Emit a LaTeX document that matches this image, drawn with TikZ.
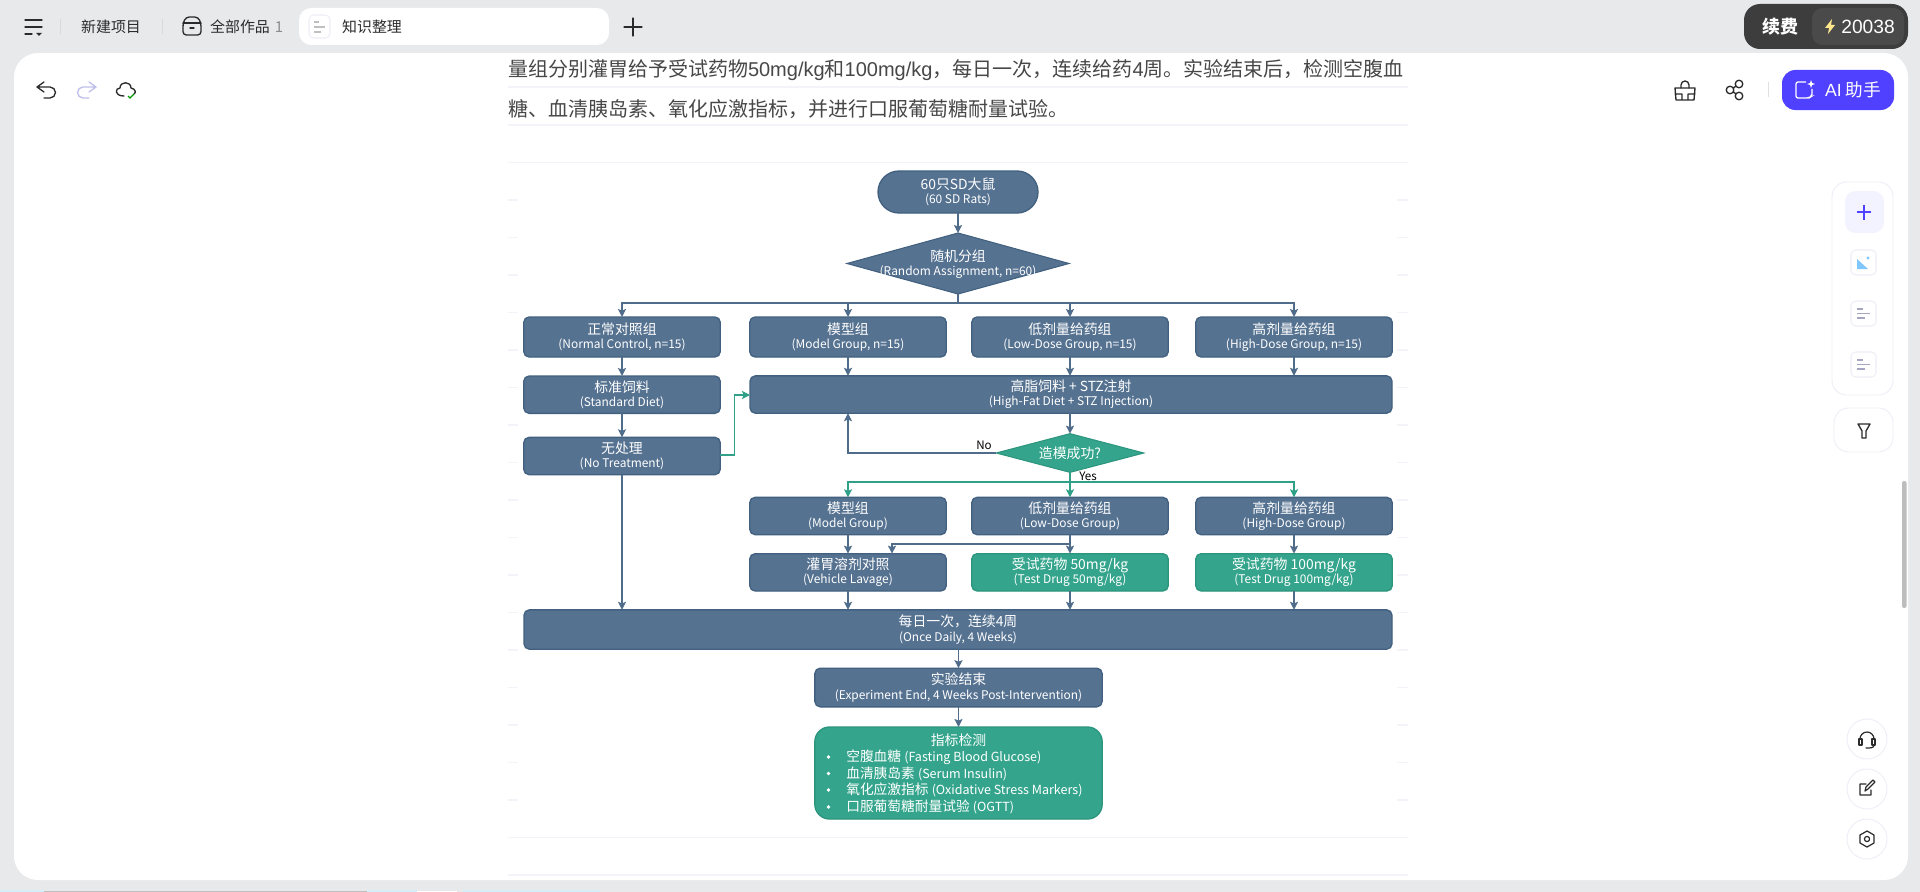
\documentclass[tikz,border=0pt]{standalone}
\usepackage{fontspec}
\setmainfont{Noto Sans CJK SC}
\newfontfamily\uifont{Liberation Sans}
\usetikzlibrary{positioning, shapes.geometric, arrows.meta, calc}

\definecolor{bluefill}{HTML}{567291}
\definecolor{blueedge}{HTML}{42607F}
\definecolor{blueline}{HTML}{4F6C8B}
\definecolor{greenfill}{HTML}{34A58C}
\definecolor{greenedge}{HTML}{2C957E}
\definecolor{greenline}{HTML}{30A088}
\definecolor{pagegrey}{HTML}{E8E9EB}
\definecolor{faintline}{HTML}{F3F3F9}
\definecolor{uipurple}{HTML}{5040FF}
\definecolor{uiedge}{HTML}{EEEEF7}
\definecolor{uiink}{HTML}{2B2B2B}

\newcommand{\twolines}[2]{{\fontsize{10.4pt}{12pt}\selectfont #1}\\[-1.4pt]{\fontsize{8.95pt}{10.5pt}\selectfont #2}}
\newcommand{\lat}[1]{{\uifont #1}}

\tikzset{
  flowbox/.style={draw=blueedge, fill=bluefill, line width=1pt, rounded corners=4pt, text=white,
    align=center, outer sep=0pt, inner sep=0pt, minimum height=#1},
  flowbox/.default=28pt,
  groupbox/.style={flowbox=30pt, minimum width=147.4pt},
  stepbox/.style={flowbox=28pt, minimum width=147.4pt},
  drugbox/.style={stepbox, draw=greenedge, fill=greenfill},
  decide/.style={diamond, aspect=3.7, draw=blueedge, fill=bluefill, line width=.8pt, outer sep=0pt, inner sep=0pt},
  decidetext/.style={text=white, align=center, inner sep=0pt},
  flow/.style={draw=blueline, line width=1.2pt, -{Stealth[length=6pt,width=6pt,inset=1.2pt]}},
  yesflow/.style={draw=greenline, line width=1.2pt, -{Stealth[length=6pt,width=6pt,inset=1.2pt]}},
  tinylabel/.style={font=\fontsize{8.7pt}{10pt}\selectfont, inner sep=0pt, outer sep=0pt},
  uitext/.style={font=\fontsize{11.2pt}{14pt}\selectfont, text=uiink, inner sep=0pt, outer sep=0pt},
  bodytext/.style={font=\fontsize{15pt}{18pt}\selectfont, text=black!72, inner sep=0pt, outer sep=0pt, anchor=west},
  uiicon/.style={draw=uiink, line width=1pt, line cap=round, line join=round},
  sidecard/.style={draw=uiedge, fill=white, line width=.7pt},
  docbadge/.style={draw=uiedge, fill=white, line width=.8pt, rounded corners=3.5pt},
}

\begin{document}
\begin{tikzpicture}[x=.75pt, y=-.75pt, node distance=14.25pt]
  \useasboundingbox (0,0) rectangle (1920,892);
  % window
  \fill[pagegrey] (0,0) rectangle (1920,892);
  \fill[white, rounded corners=18pt] (14,53) rectangle (1908,880);
  \fill[blue!30!cyan!20] (0,890.5) rectangle (44,892) (367,890.5) rectangle (417,892) (463,890.5) rectangle (600,892);
  \fill[black!25] (44,890.5) rectangle (367,892);
  \fill[white] (417,890.5) rectangle (457,892);

  % faint ruled lines of the page
  \foreach \k in {0,...,20} {
    \draw[faintline, line width=.8pt] (508,{125+37.5*\k}) -- (1408,{125+37.5*\k});
  }
  \draw[faintline, line width=.8pt] (508,87) -- (1408,87);

  % text above the figure
  \node[bodytext] (line1) at (508,70) {量组分别灌胃给予受试药物\lat{50mg/kg}和\lat{100mg/kg}，每日一次，连续给药\lat{4}周。实验结束后，检测空腹血};
  \node[bodytext] (line2) at (508,109.5) {糖、血清胰岛素、氧化应激指标，并进行口服葡萄糖耐量试验。};

  % figure background hides the rules
  \fill[white] (518,164) rectangle (1397,836);

  % flowchart
  \node[flowbox=31.5pt, minimum width=120pt, rounded corners=15.7pt] (start) at (958,192) {\twolines{60只SD大鼠}{(60 SD Rats)}};
  \node[decide, minimum width=166.5pt, minimum height=45.75pt] (assign) at (958,263.5) {};
  \node[decidetext] (assigntext) at (958,264) {\twolines{随机分组}{(Random Assignment, n=60)}};

  \node[groupbox] (normal) at (622,337) {\twolines{正常对照组}{(Normal Control, n=15)}};
  \node[groupbox] (model) at (848,337) {\twolines{模型组}{(Model Group, n=15)}};
  \node[groupbox] (low) at (1070,337) {\twolines{低剂量给药组}{(Low-Dose Group, n=15)}};
  \node[groupbox] (high) at (1294,337) {\twolines{高剂量给药组}{(High-Dose Group, n=15)}};

  \node[stepbox] (diet) [below=of normal] {\twolines{标准饲料}{(Standard Diet)}};
  \node[stepbox] (none) [below=18pt of diet] {\twolines{无处理}{(No Treatment)}};
  \node[flowbox, minimum width=481.5pt] (hfd) at (1071,394.5) {\twolines{高脂饲料 + STZ注射}{(High-Fat Diet + STZ Injection)}};

  \node[decide, draw=greenedge, fill=greenfill, minimum width=110.6pt, minimum height=29pt] (ok) at (1070,453) {};
  \node[decidetext] (oktext) at (1070,453) {{\fontsize{10.4pt}{13pt}\selectfont 造模成功?}};
  \node[tinylabel] (nolabel) at (984,445) {No};
  \node[tinylabel] (yeslabel) at (1088,476) {Yes};
  \coordinate (yesbar) at (1070,482);
  \coordinate (nocorner) at (848,453);

  \node[stepbox] (model2) at (848,516) {\twolines{模型组}{(Model Group)}};
  \node[stepbox] (low2) at (1070,516) {\twolines{低剂量给药组}{(Low-Dose Group)}};
  \node[stepbox] (high2) at (1294,516) {\twolines{高剂量给药组}{(High-Dose Group)}};

  \node[stepbox] (vehicle) [below=of model2] {\twolines{灌胃溶剂对照}{(Vehicle Lavage)}};
  \node[drugbox] (drug50) [below=of low2] {\twolines{受试药物 50mg/kg}{(Test Drug 50mg/kg)}};
  \node[drugbox] (drug100) [below=of high2] {\twolines{受试药物 100mg/kg}{(Test Drug 100mg/kg)}};
  \coordinate (crossbar) at (1070,544);
  \coordinate (crossdrop) at (892,544);

  \node[flowbox=29.5pt, minimum width=651pt] (daily) at (958,629.5) {\twolines{每日一次，连续4周}{(Once Daily, 4 Weeks)}};
  \node[flowbox=29pt, minimum width=215.5pt] (finish) at (958.5,687.5) {\twolines{实验结束}{(Experiment End, 4 Weeks Post-Intervention)}};
  \node[flowbox=69pt, minimum width=215.5pt, draw=greenedge, fill=greenfill, rounded corners=11pt] (assay) at (958.5,773) {};
  \node[text=white, inner sep=0pt, font=\fontsize{10.4pt}{13pt}\selectfont] (assaytitle) at (958.5,740) {指标检测};
  \foreach \y/\cjk/\eng/\name in {757/空腹血糖/(Fasting Blood Glucose)/ma,773.5/血清胰岛素/(Serum Insulin)/mb,790/氧化应激指标/(Oxidative Stress Markers)/mc,807/口服葡萄糖耐量试验/(OGTT)/md} {
    \node[text=white, inner sep=0pt, anchor=west, font=\fontsize{10.3pt}{11pt}\selectfont] (\name) at (846,\y) {\cjk{} {\fontsize{9.4pt}{11pt}\selectfont\eng}};
    \fill[white] (828.5,\y) circle[radius=1.8];
  }

  % connectors
  \draw[flow] (start) -- (assign);
  \draw[draw=blueline, line width=1.2pt] (assign.south) -- (958,303);
  \draw[flow] (958,303) -| (normal.north);
  \draw[flow] (958,303) -| (model.north);
  \draw[flow] (958,303) -| (low.north);
  \draw[flow] (958,303) -| (high.north);
  \draw[flow] (normal) -- (diet);
  \draw[flow] (diet) -- (none);
  \draw[flow] (model.south) -- (model.south |- hfd.north);
  \draw[flow] (low.south) -- (low.south |- hfd.north);
  \draw[flow] (high.south) -- (high.south |- hfd.north);
  \draw[yesflow] (none.east |- 0,455) -- (734.5,455) |- (hfd.west |- 0,395);
  \draw[flow] (hfd.south -| ok.north) -- (ok.north);
  \draw[flow] (ok.west) -- (nocorner) -- (nocorner |- hfd.south);
  \draw[draw=greenline, line width=1.2pt] (ok.south) -- (yesbar);
  \draw[yesflow] (yesbar) -| (model2.north);
  \draw[yesflow] (yesbar) -- (low2.north);
  \draw[yesflow] (yesbar) -| (high2.north);
  \draw[flow] (model2) -- (vehicle);
  \draw[flow] (low2) -- (drug50);
  \draw[flow] (high2) -- (drug100);
  \draw[flow] (crossbar) -- (crossdrop) -- (crossdrop |- vehicle.north);
  \draw[flow] (vehicle.south) -- (vehicle.south |- daily.north);
  \draw[flow] (drug50.south) -- (drug50.south |- daily.north);
  \draw[flow] (drug100.south) -- (drug100.south |- daily.north);
  \draw[flow] (none.south) -- (none.south |- daily.north);
  \draw[flow] (daily.south -| finish.north) -- (finish.north);
  \draw[flow] (finish) -- (assay);

  % tab bar
  \draw[uiicon] (25,20) -- (42,20) (25,27) -- (42,27) (25,34) -- (32,34);
  \fill[uiink] (36,33) -- (42,33) -- (39,36) -- cycle;
  \draw[black!15, line width=.7pt] (60.5,19) -- (60.5,34) (162,19) -- (162,34);
  \node[uitext] (newproj) at (111,27) {新建项目};
  \draw[uiicon, rounded corners=2.5pt] (183,23) -- (183,35) -- (201,35) -- (201,23) -- (198,17) -- (186,17) -- cycle;
  \draw[uiicon] (183,23) -- (201,23) (190,28) -- (194,28);
  \node[uitext] (allworks) at (240,27) {全部作品};
  \node[uitext, text=black!45] (allcount) at (279,27) {1};
  \fill[white, rounded corners=9pt] (299,8) rectangle (609,45);
  \draw[docbadge] (309,15) rectangle (330,38);
  \draw[black!25, line width=1pt] (314,22) -- (319,22) (314,27) -- (325,27);
  \draw[black!25, line width=1pt] (314,32) -- (321,32);
  \node[uitext] (curtab) at (372,27) {知识整理};
  \draw[uiicon, line width=.9pt] (624,27) -- (642,27) (633,18) -- (633,36);

  % top left tools
  \draw[uiicon] (44,82) -- (37,87) -- (44,92) (37,87) -- (50,87) arc[start angle=-90, end angle=90, radius=5.5] -- (44,98);
  \draw[uiicon, draw=black!30!blue!25] (89,82) -- (96,87) -- (89,92) (96,87) -- (83,87) arc[start angle=270, end angle=90, radius=5.5] -- (89,98);
  \draw[uiicon] (124,96) .. controls (114,96) and (115,88) .. (120,88) .. controls (120,81) and (131,81) .. (131,88) .. controls (136,89) and (136,93) .. (134,94);
  \draw[green!60!black, line width=.8pt] (128,96) -- (130,98) -- (134,94);

  % top right
  \fill[black!76, rounded corners=12pt] (1744,4) rectangle (1908,49);
  \fill[black!71, rounded corners=8pt] (1812,8) rectangle (1904,45);
  \node[text=white, inner sep=0pt, font=\bfseries\fontsize{13.5pt}{14pt}\selectfont] (renew) at (1780,27) {续费};
  \fill[orange!40!yellow!45] (1832,19) -- (1825,28) -- (1829,28) -- (1828,34) -- (1835,25) -- (1831,25) -- cycle;
  \node[text=white, inner sep=0pt, font=\uifont\fontsize{14.4pt}{16pt}\selectfont] (credits) at (1868,27) {20038};

  \draw[uiicon] (1676,100) -- (1694,100) -- (1695,88) -- (1675,88) -- cycle (1675,94) -- (1682,94) -- (1682,100) (1688,100) -- (1688,94) -- (1695,94);
  \draw[uiicon] (1681,88) -- (1681,85) arc[start angle=180, end angle=360, radius=4] -- (1689,88);
  \draw[uiicon] (1730,90) circle[radius=3.8] (1739,84) circle[radius=3.8] (1739,96) circle[radius=3.8] (1733.5,88) -- (1736,86) (1733.5,92) -- (1736,94);
  \draw[black!12, line width=.7pt] (1768,82) -- (1768,97);
  \fill[uipurple, rounded corners=10pt] (1782,70) rectangle (1894,110);
  \draw[white, line width=1pt, rounded corners=1.5pt] (1806,82) -- (1796,82) -- (1796,98) -- (1809,98) -- (1812,96) -- (1812,89);
  \fill[white] (1811,80) -- (1812,83) -- (1815,84) -- (1812,85) -- (1811,88) -- (1810,85) -- (1807,84) -- (1810,83) -- cycle;
  \node[text=white, inner sep=0pt, font=\fontsize{13.2pt}{16pt}\selectfont] (aihelp) at (1853,90) {{\uifont AI} 助手};

  % side tool panel
  \draw[sidecard, rounded corners=11pt] (1832,182) rectangle (1893,395);
  \fill[uipurple!7, rounded corners=8pt] (1845,191) rectangle (1884,233);
  \draw[uipurple, line width=.9pt] (1857,212) -- (1871,212) (1864,205) -- (1864,220);
  \draw[docbadge] (1851,250) rectangle (1876,275);
  \fill[blue!45!cyan!50] (1857,259) -- (1868,269) -- (1857,269) -- cycle;
  \fill[blue!45!cyan!50] (1868,258) circle[radius=1.6];
  \foreach \y in {301,352} {
    \draw[docbadge] (1851,\y) rectangle (1876,\y+25);
    \draw[blue!30!black!35, line width=1pt] (1857,\y+8) -- (1863,\y+8) (1857,\y+12.5) -- (1870,\y+12.5) (1857,\y+17) -- (1865,\y+17);
  }
  \draw[sidecard, rounded corners=11pt] (1834,408) rectangle (1893,452);
  \draw[uiicon] (1858,424) -- (1870,424) -- (1866,431) -- (1866,438) -- (1862,438) -- (1862,431) -- cycle;

  % round helpers
  \foreach \y in {739,789,839} {
    \draw[sidecard] (1867,\y) circle[radius=20];
  }
  \draw[uiicon, line width=.9pt] (1860,739) arc[start angle=180, end angle=360, radius=7];
  \draw[uiicon, line width=.9pt] (1859,739) rectangle (1862,745) (1872,739) rectangle (1875,745);
  \draw[uiicon, line width=.9pt] (1874,745) .. controls (1874,748) and (1871,748) .. (1866,748);
  \draw[uiicon, line width=.9pt] (1866,784) -- (1860,784) -- (1860,795) -- (1871,795) -- (1871,790) (1865,791) -- (1866,787) -- (1873,780) -- (1875,782) -- (1868,789) -- cycle;
  \draw[uiicon, line width=.9pt] (1867,831) -- (1874,835) -- (1874,843) -- (1867,847) -- (1860,843) -- (1860,835) -- cycle (1867,839) circle[radius=2.6];

  % scrollbar
  \fill[black!26, rounded corners=1.5pt] (1902,481) rectangle (1906.5,608);
\end{tikzpicture}
\end{document}
